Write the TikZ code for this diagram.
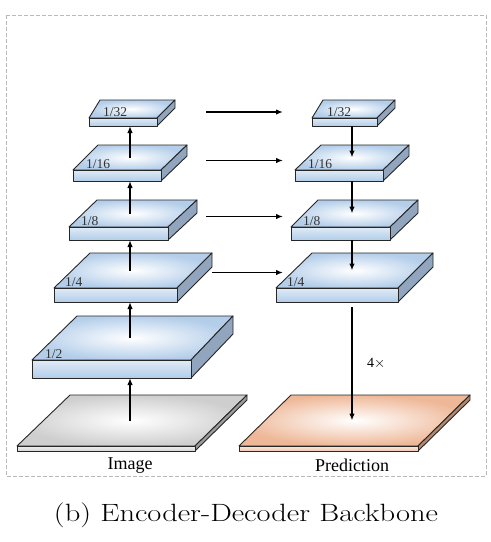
\documentclass[tikz,border=0pt]{standalone}
\usepackage{fontspec}
\usepackage{tikz}
\newfontfamily\figfont{Liberation Serif}
\definecolor{enctop}{RGB}{180,206,234}
\definecolor{encfront}{RGB}{178,205,233}
\definecolor{encside}{RGB}{146,165,190}
\definecolor{imgtop}{RGB}{206,206,206}
\definecolor{imgfront}{RGB}{214,214,214}
\definecolor{imgside}{RGB}{155,155,155}
\definecolor{predtop}{RGB}{238,184,152}
\definecolor{predfront}{RGB}{240,200,176}
\definecolor{predside}{RGB}{184,134,106}
\definecolor{FrameGray}{RGB}{185,185,185}
\usetikzlibrary{
	positioning,
	calc,
	arrows.meta
}
% #1 name, #2/#3 front left/right, #4/#5 front top/bottom,
% #6/#7 back left/right, #8 back top, #9 colour prefix
\newcommand{\Slab}[9]{%
	\pgfmathsetmacro{\SlabDrop}{#8+#5-#4}%
	\pgfmathsetmacro{\SlabW}{#3-#2}%
	\pgfmathsetmacro{\SlabH}{#5-#4}%
	\shadedraw[slabline, inner color=white, outer color=#9top] (#2,#4) -- (#6,#8) -- (#7,#8) -- (#3,#4) -- cycle;
	\filldraw[slabline, fill=#9side] (#3,#4) -- (#7,#8) -- (#7,\SlabDrop) -- (#3,#5) -- cycle;
	\node[slabline, top color=#9front!40!white, bottom color=#9front, inner sep=0pt, outer sep=0pt,
		minimum width=\SlabW pt, minimum height=\SlabH pt, anchor=north west] (#1) at (#2,#4) {};
	\coordinate (#1-top) at ({(#2+#3+#6+#7)/4},{(#4+#8)/2});
	\coordinate (#1-back) at (#7,#8);
}

\begin{document}
\begin{tikzpicture}[
		x=1pt, y=-1pt,
		slabline/.style={draw=black!85, line width=0.9pt, line join=round},
		lvl/.style={font=\figfont\fontsize{13.5}{14}\selectfont, text=black!80, inner sep=0pt, anchor=base west},
		figtext/.style={font=\figfont\fontsize{18}{20}\selectfont, inner sep=0pt, anchor=base},
		arr/.style={-{Latex[length=7pt,width=5.5pt]}, line width=1.4pt},
		caption/.style={font=\fontsize{25}{28}\selectfont, inner sep=0pt, anchor=base, xscale=1.22}
	]
	\useasboundingbox (0,0) rectangle (491,542);
	\draw[FrameGray, line width=0.8pt, dash pattern=on 4pt off 2pt] (6,15) rectangle (486,476);

	% input and output planes
	\Slab{img}{17}{195}{446}{451}{70}{247}{395}{img}
	\Slab{pred}{239}{418}{446}{451}{291}{470}{395}{pred}

	% encoder
	\Slab{e2}{32}{191}{360}{378}{77}{233}{316}{enc}
	\Slab{e4}{54}{177}{288}{302}{90}{212}{253}{enc}
	\Slab{e8}{69}{168}{227}{240}{97}{197}{200}{enc}
	\Slab{e16}{73}{161}{170}{181}{98}{187}{145}{enc}
	\Slab{e32}{89}{157}{118}{126}{100}{175}{100}{enc}

	% decoder
	\Slab{d4}{276}{398}{288}{302}{312}{433}{253}{enc}
	\Slab{d8}{291}{390}{227}{240}{318}{418}{200}{enc}
	\Slab{d16}{295}{383}{170}{181}{321}{409}{145}{enc}
	\Slab{d32}{312}{377}{118}{126}{323}{395}{100}{enc}

	\node[lvl] (e2-lbl) at ([xshift=13pt,yshift=2pt]e2.north west) {1/2};
	\node[lvl] (e4-lbl) at ([xshift=11pt,yshift=2pt]e4.north west) {1/4};
	\node[lvl] (e8-lbl) at ([xshift=12pt,yshift=2pt]e8.north west) {1/8};
	\node[lvl] (e16-lbl) at ([xshift=13pt,yshift=2pt]e16.north west) {1/16};
	\node[lvl] (e32-lbl) at ([xshift=14pt,yshift=2pt]e32.north west) {1/32};
	\node[lvl] (d4-lbl) at ([xshift=11pt,yshift=2pt]d4.north west) {1/4};
	\node[lvl] (d8-lbl) at ([xshift=12pt,yshift=2pt]d8.north west) {1/8};
	\node[lvl] (d16-lbl) at ([xshift=13pt,yshift=2pt]d16.north west) {1/16};
	\node[lvl] (d32-lbl) at ([xshift=15pt,yshift=2pt]d32.north west) {1/32};

	\coordinate (eaxis) at (130,0);
	\coordinate (daxis) at (352,0);
	\coordinate (skipl) at (206,0);
	\coordinate (skipr) at (283,0);

	% encoder path
	\draw[arr] (eaxis |- img-top) -- (eaxis |- e2.south);
	\draw[arr] (eaxis |- e2-top) -- (eaxis |- e4.south);
	\draw[arr] (eaxis |- e4-top) -- (eaxis |- e8.south);
	\draw[arr] (eaxis |- e8-top) -- (eaxis |- e16.south);
	\draw[arr] (eaxis |- e16-top) -- (eaxis |- e32.south);

	% decoder path
	\draw[arr] (daxis |- d32.south) -- (daxis |- d16-top);
	\draw[arr] (daxis |- d16.south) -- (daxis |- d8-top);
	\draw[arr] (daxis |- d8.south) -- (daxis |- d4-top);
	\draw[arr] ([yshift=-5pt]daxis |- d4.south) -- (daxis |- pred-top)
		node[midway, right=11pt, font=\figfont\fontsize{14}{14}\selectfont] (upsample) {4$\times$};

	% skip connections
	\foreach \s in {32,16,8}
		\draw[arr] ([yshift=-3pt]skipl |- e\s-top) -- ([yshift=-3pt]skipr |- e\s-top);
	\draw[arr] ([yshift=-2pt]e4-back |- e4-top) -- ([yshift=-2pt]skipr |- e4-top);

	\node[figtext] (imglbl) at ([yshift=-18pt]eaxis |- img.south) {Image};
	\node[figtext] (predlbl) at ([yshift=-20pt]daxis |- pred.south) {Prediction};

	\node[caption] (cap) at (246,521) {(b) Encoder-Decoder Backbone};
\end{tikzpicture}
\end{document}
